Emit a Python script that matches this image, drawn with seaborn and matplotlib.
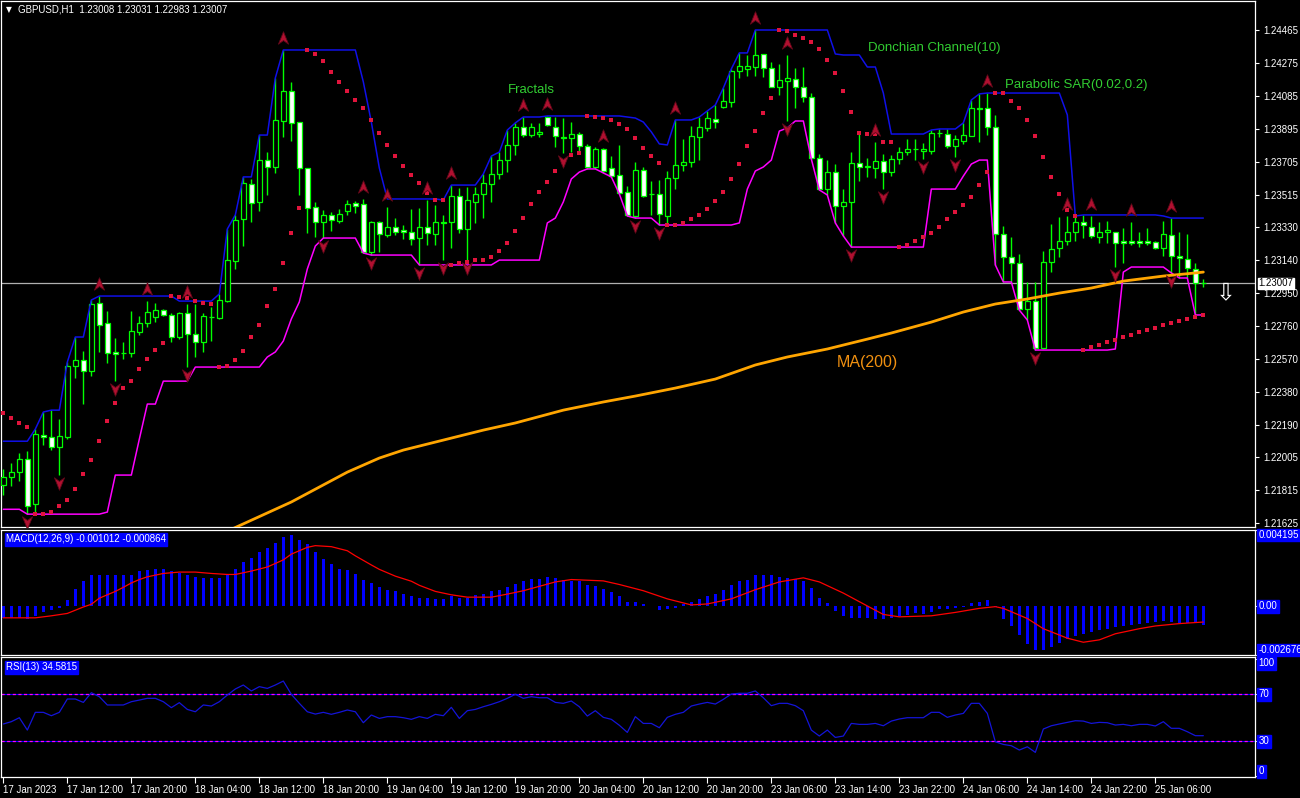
"""
plot.py
GBPUSD H1 chart with Donchian channel, parabolic SAR, fractals, MA, MACD and RSI
"""

import matplotlib
matplotlib.use("Agg")
import matplotlib.pyplot as plt
import matplotlib.transforms as mtrans
from matplotlib.path import Path
import numpy as np
import pandas as pd
import seaborn as sns

# ---------------- data ----------------
opens = [
    1.21844, 1.21891, 1.21919, 1.21994, 1.21735, 1.22132, 1.22121, 1.22063, 1.22121, 1.22530,
    1.22564, 1.22501, 1.22893, 1.22778, 1.22611, 1.22605, 1.22605, 1.22726, 1.22778, 1.22812,
    1.22852, 1.22824, 1.22697, 1.22835, 1.22714, 1.22668, 1.22812, 1.22806, 1.22904, 1.23135,
    1.23377, 1.23578, 1.23475, 1.23716, 1.23676, 1.23941, 1.24114, 1.23935, 1.23670, 1.23446,
    1.23359, 1.23400, 1.23365, 1.23423, 1.23469, 1.23463, 1.23187, 1.23359, 1.23284, 1.23331,
    1.23313, 1.23302, 1.23267, 1.23331, 1.23290, 1.23359, 1.23359, 1.23509, 1.23319, 1.23475,
    1.23521, 1.23578, 1.23636, 1.23716, 1.23803, 1.23906, 1.23860, 1.23866, 1.23964, 1.23906,
    1.23849, 1.23843, 1.23866, 1.23797, 1.23676, 1.23780, 1.23670, 1.23630, 1.23532, 1.23394,
    1.23659, 1.23521, 1.23521, 1.23394, 1.23613, 1.23688, 1.23705, 1.23849, 1.23901, 1.23953,
    1.24022, 1.24050, 1.24229, 1.24241, 1.24252, 1.24327, 1.24246, 1.24137, 1.24171, 1.24183,
    1.24137, 1.24079, 1.23728, 1.23549, 1.23647, 1.23451, 1.23475, 1.23699, 1.23676, 1.23670,
    1.23711, 1.23647, 1.23722, 1.23762, 1.23780, 1.23768, 1.23768, 1.23872, 1.23866, 1.23797,
    1.23826, 1.23855, 1.24010, 1.24016, 1.23906, 1.23290, 1.23158, 1.23123, 1.22858, 1.22904,
    1.22634, 1.23129, 1.23210, 1.23250, 1.23302, 1.23359, 1.23331, 1.23273, 1.23302, 1.23302,
    1.23250, 1.23250, 1.23250, 1.23250, 1.23244, 1.23210, 1.23284, 1.23163, 1.23146, 1.23089,
    1.23008,
]
highs = [
    1.21937, 1.21971, 1.22029, 1.22040, 1.22167, 1.22265, 1.22276, 1.22225, 1.22553, 1.22697,
    1.22616, 1.22910, 1.22933, 1.22847, 1.22691, 1.22668, 1.22847, 1.22818, 1.22904, 1.22893,
    1.22858, 1.22835, 1.22841, 1.22887, 1.22887, 1.22835, 1.22870, 1.22945, 1.23319, 1.23400,
    1.23619, 1.23607, 1.23860, 1.23762, 1.24189, 1.24350, 1.24166, 1.23935, 1.23670, 1.23475,
    1.23428, 1.23417, 1.23434, 1.23486, 1.23480, 1.23492, 1.23365, 1.23365, 1.23446, 1.23382,
    1.23342, 1.23434, 1.23440, 1.23486, 1.23457, 1.23400, 1.23572, 1.23555, 1.23561, 1.23561,
    1.23636, 1.23739, 1.23762, 1.23889, 1.23930, 1.23964, 1.23930, 1.23930, 1.23970, 1.23964,
    1.23958, 1.23935, 1.23878, 1.23809, 1.23791, 1.23786, 1.23739, 1.23803, 1.23567, 1.23705,
    1.23676, 1.23595, 1.23601, 1.23653, 1.23947, 1.23837, 1.23912, 1.23964, 1.23999, 1.24033,
    1.24131, 1.24241, 1.24333, 1.24321, 1.24465, 1.24327, 1.24281, 1.24269, 1.24321, 1.24246,
    1.24252, 1.24102, 1.23751, 1.23716, 1.23693, 1.23549, 1.23762, 1.23866, 1.23728, 1.23820,
    1.23751, 1.23745, 1.23791, 1.23837, 1.23837, 1.23814, 1.23889, 1.23895, 1.23895, 1.23860,
    1.23930, 1.24062, 1.24097, 1.24102, 1.23976, 1.23336, 1.23273, 1.23175, 1.23014, 1.23014,
    1.23192, 1.23348, 1.23388, 1.23394, 1.23388, 1.23400, 1.23394, 1.23359, 1.23365, 1.23302,
    1.23325, 1.23359, 1.23302, 1.23325, 1.23250, 1.23365, 1.23382, 1.23302, 1.23290, 1.23123,
    1.23031,
]
lows = [
    1.21787, 1.21839, 1.21867, 1.21677, 1.21689, 1.22075, 1.22046, 1.21902, 1.22109, 1.22461,
    1.22311, 1.22472, 1.22611, 1.22547, 1.22443, 1.22570, 1.22582, 1.22708, 1.22754, 1.22783,
    1.22818, 1.22668, 1.22685, 1.22524, 1.22582, 1.22611, 1.22674, 1.22801, 1.22899, 1.23089,
    1.23221, 1.23359, 1.23423, 1.23515, 1.23642, 1.23849, 1.23826, 1.23515, 1.23296, 1.23273,
    1.23267, 1.23307, 1.23354, 1.23400, 1.23411, 1.23181, 1.23169, 1.23187, 1.23273, 1.23284,
    1.23261, 1.23227, 1.23112, 1.23227, 1.23227, 1.23140, 1.23210, 1.23296, 1.23140, 1.23354,
    1.23382, 1.23475, 1.23607, 1.23647, 1.23745, 1.23849, 1.23849, 1.23849, 1.23912, 1.23791,
    1.23757, 1.23762, 1.23762, 1.23665, 1.23665, 1.23642, 1.23619, 1.23521, 1.23394, 1.23382,
    1.23503, 1.23400, 1.23342, 1.23354, 1.23549, 1.23653, 1.23676, 1.23716, 1.23883, 1.23901,
    1.24016, 1.24022, 1.24189, 1.24200, 1.24200, 1.24195, 1.24137, 1.24091, 1.23941, 1.24016,
    1.24050, 1.23722, 1.23544, 1.23515, 1.23354, 1.23279, 1.23215, 1.23595, 1.23619, 1.23613,
    1.23549, 1.23624, 1.23693, 1.23745, 1.23716, 1.23722, 1.23751, 1.23849, 1.23786, 1.23734,
    1.23809, 1.23855, 1.23820, 1.23860, 1.23112, 1.23014, 1.23014, 1.22852, 1.22795, 1.22622,
    1.22628, 1.23071, 1.23158, 1.23227, 1.23250, 1.23267, 1.23267, 1.23238, 1.23238, 1.23100,
    1.23123, 1.23227, 1.23215, 1.23227, 1.23204, 1.23163, 1.23066, 1.23037, 1.23037, 1.22824,
    1.22983,
]
closes = [
    1.21891, 1.21919, 1.21994, 1.21723, 1.22138, 1.22121, 1.22063, 1.22127, 1.22530, 1.22564,
    1.22501, 1.22887, 1.22766, 1.22605, 1.22599, 1.22605, 1.22731, 1.22778, 1.22841, 1.22852,
    1.22824, 1.22697, 1.22835, 1.22714, 1.22668, 1.22818, 1.22812, 1.22910, 1.23140, 1.23371,
    1.23584, 1.23469, 1.23716, 1.23676, 1.23947, 1.24114, 1.23930, 1.23670, 1.23440, 1.23359,
    1.23400, 1.23371, 1.23405, 1.23463, 1.23451, 1.23187, 1.23359, 1.23290, 1.23331, 1.23302,
    1.23302, 1.23261, 1.23331, 1.23296, 1.23359, 1.23354, 1.23509, 1.23319, 1.23486, 1.23521,
    1.23584, 1.23636, 1.23716, 1.23803, 1.23906, 1.23860, 1.23906, 1.23878, 1.23918, 1.23855,
    1.23843, 1.23866, 1.23797, 1.23676, 1.23780, 1.23653, 1.23624, 1.23526, 1.23400, 1.23659,
    1.23509, 1.23521, 1.23405, 1.23613, 1.23688, 1.23705, 1.23855, 1.23906, 1.23958, 1.23935,
    1.24056, 1.24229, 1.24258, 1.24258, 1.24321, 1.24246, 1.24137, 1.24177, 1.24189, 1.24137,
    1.24079, 1.23728, 1.23549, 1.23647, 1.23451, 1.23475, 1.23699, 1.23676, 1.23682, 1.23711,
    1.23647, 1.23722, 1.23762, 1.23780, 1.23780, 1.23780, 1.23872, 1.23872, 1.23797, 1.23837,
    1.23860, 1.24016, 1.24016, 1.23906, 1.23290, 1.23158, 1.23123, 1.22858, 1.22904, 1.22634,
    1.23129, 1.23204, 1.23250, 1.23302, 1.23359, 1.23342, 1.23279, 1.23302, 1.23313, 1.23238,
    1.23238, 1.23238, 1.23238, 1.23238, 1.23210, 1.23290, 1.23163, 1.23152, 1.23094, 1.23008,
    1.23007,
]

# fractal bars (arrow above the high / below the low)
fractal_up = [12, 18, 23, 35, 45, 48, 53, 56, 65, 68, 75, 84, 94, 98, 109, 123, 133, 136, 141, 146]
fractal_dn = [3, 7, 14, 23, 40, 46, 52, 55, 58, 70, 79, 82, 98, 106, 110, 115, 119, 129, 139, 146]

# Donchian channel level carried in from bars before the first visible one
donchian_prior_high = 1.22097
donchian_prior_low = 1.21705

# parabolic SAR state at the first visible bar (falling, above price)
sar_first = 1.22259
sar_first_ep = 1.21787
sar_first_af = 0.06

# MA(200), read at these bars
ma_bar = [28, 36, 43, 47, 50, 54, 60, 64, 70, 75, 79, 84, 89, 94, 98, 103, 108, 111,
          116, 120, 124, 128, 132, 136, 140, 145, 149, 150]
ma_val = [1.21579, 1.21747, 1.21919, 1.22000, 1.22046, 1.22092, 1.22161, 1.22202, 1.22276,
          1.22323, 1.22357, 1.22403, 1.22455, 1.22536, 1.22582, 1.22628, 1.22685, 1.22720,
          1.22783, 1.22841, 1.22887, 1.22916, 1.22950, 1.22979, 1.23019, 1.23048, 1.23066,
          1.23071]

macd_hist = [
    -0.000633, -0.000633, -0.000633, -0.000708, -0.000522, -0.000298, -0.000205, -0.000112, 0.000335, 0.000950,
    0.001379, 0.001695, 0.001733, 0.001733, 0.001733, 0.001733, 0.001733, 0.001919, 0.001975, 0.002031,
    0.002031, 0.001938, 0.001844, 0.001714, 0.001602, 0.001565, 0.001565, 0.001565, 0.001695, 0.002049,
    0.002459, 0.002683, 0.002962, 0.003186, 0.003484, 0.003801, 0.003912, 0.003670, 0.003428, 0.002962,
    0.002627, 0.002347, 0.002068, 0.001975, 0.001788, 0.001472, 0.001285, 0.001043, 0.000913, 0.000857,
    0.000671, 0.000540, 0.000484, 0.000447, 0.000410, 0.000410, 0.000540, 0.000484, 0.000484, 0.000633,
    0.000671, 0.000820, 0.000913, 0.001043, 0.001230, 0.001379, 0.001509, 0.001509, 0.001602, 0.001565,
    0.001472, 0.001416, 0.001416, 0.001155, 0.001099, 0.000950, 0.000782, 0.000540, 0.000261, 0.000224,
    0.000112, 0.000037, -0.000186, -0.000149, -0.000075, 0.000112, 0.000224, 0.000391, 0.000540, 0.000671,
    0.000913, 0.001155, 0.001379, 0.001472, 0.001695, 0.001733, 0.001695, 0.001602, 0.001565, 0.001528,
    0.001379, 0.001006, 0.000447, 0.000168, -0.000261, -0.000540, -0.000615, -0.000633, -0.000633, -0.000671,
    -0.000671, -0.000633, -0.000522, -0.000484, -0.000391, -0.000428, -0.000298, -0.000168, -0.000149, -0.000112,
    -0.000056, 0.000168, 0.000261, 0.000354, -0.000056, -0.000708, -0.001099, -0.001602, -0.002068, -0.002403,
    -0.002385, -0.002254, -0.002031, -0.001788, -0.001658, -0.001546, -0.001416, -0.001323, -0.001230, -0.001136,
    -0.001099, -0.001043, -0.000950, -0.000894, -0.000857, -0.000820, -0.000857, -0.000894, -0.000894, -0.000913,
    -0.001012,
]
signal_bar = [0, 4, 6, 8, 10, 11, 12, 14, 15, 16, 17, 18, 20, 22, 24, 26, 28, 29, 31, 33, 35, 36,
              38, 39, 41, 43, 44, 46, 47, 49, 51, 52, 54, 56, 58, 61, 63, 65, 67, 69, 71, 73, 75,
              77, 80, 83, 86, 88, 91, 94, 97, 100, 102, 105, 108, 110, 112, 116, 119, 122, 124,
              125, 128, 130, 133, 135, 137, 139, 142, 144, 147, 150]
signal_val = [-0.000633, -0.000633, -0.000522, -0.000391, -0.000037, 0.000112, 0.000447, 0.000820,
              0.001043, 0.001285, 0.001472, 0.001621, 0.001807, 0.001882, 0.001882, 0.001807,
              0.001751, 0.001751, 0.001938, 0.002161, 0.002552, 0.002869, 0.003242, 0.003335,
              0.003279, 0.003055, 0.002776, 0.002273, 0.002031, 0.001658, 0.001379, 0.001155,
              0.000820, 0.000633, 0.000503, 0.000503, 0.000671, 0.000857, 0.001099, 0.001341,
              0.001472, 0.001435, 0.001398, 0.001200, 0.000857, 0.000410, 0.000075, 0.000130,
              0.000410, 0.000913, 0.001341, 0.001565, 0.001341, 0.000727, 0.000019, -0.000447,
              -0.000578, -0.000522, -0.000335, -0.000112, -0.000019, -0.000112, -0.000671,
              -0.001230, -0.001751, -0.001975, -0.001844, -0.001509, -0.001230, -0.001080,
              -0.000950, -0.000864]

rsi = [
    44.6, 46.6, 50.0, 39.4, 54.6, 54.6, 51.7, 54.6, 66.0, 66.0,
    63.1, 71.4, 68.0, 60.9, 60.9, 60.9, 63.7, 65.1, 66.6, 66.6,
    63.7, 58.6, 62.9, 57.1, 55.1, 60.9, 60.0, 63.7, 69.4, 74.6,
    78.0, 72.9, 76.6, 75.1, 78.0, 81.4, 70.0, 62.3, 55.1, 53.1,
    54.6, 52.9, 54.6, 56.6, 55.1, 45.7, 52.3, 49.4, 50.9, 50.9,
    50.0, 48.6, 50.9, 49.4, 52.9, 51.7, 58.9, 49.4, 56.0, 57.1,
    59.4, 61.4, 63.7, 66.6, 70.0, 66.6, 68.0, 67.1, 67.1, 63.1,
    62.3, 64.3, 59.4, 51.4, 56.0, 50.3, 48.6, 43.5, 37.4, 50.9,
    45.1, 45.1, 41.4, 50.3, 52.9, 54.6, 60.0, 61.7, 63.1, 61.7,
    65.7, 70.3, 70.9, 70.9, 72.9, 67.1, 60.3, 62.3, 62.3, 60.3,
    56.0, 39.4, 34.3, 39.4, 33.1, 34.3, 45.1, 44.3, 44.3, 45.1,
    43.1, 47.1, 48.9, 50.0, 50.0, 50.0, 54.6, 54.6, 50.3, 52.3,
    53.7, 62.3, 62.3, 53.7, 29.4, 27.1, 26.0, 22.3, 25.1, 20.3,
    40.3, 43.1, 44.6, 46.0, 47.4, 47.1, 45.1, 46.0, 45.7, 43.7,
    44.3, 43.1, 44.3, 44.3, 42.9, 46.6, 40.9, 40.9, 38.0, 34.6,
    34.5815,
]

price_ticks = [1.24465, 1.24275, 1.24085, 1.23895, 1.23705, 1.23515, 1.23330, 1.23140,
               1.22950, 1.22760, 1.22570, 1.22380, 1.22190, 1.22005, 1.21815, 1.21625]
time_labels = ["17 Jan 2023", "17 Jan 12:00", "17 Jan 20:00", "18 Jan 04:00", "18 Jan 12:00",
               "18 Jan 20:00", "19 Jan 04:00", "19 Jan 12:00", "19 Jan 20:00", "20 Jan 04:00",
               "20 Jan 12:00", "20 Jan 20:00", "23 Jan 06:00", "23 Jan 14:00", "23 Jan 22:00",
               "24 Jan 06:00", "24 Jan 14:00", "24 Jan 22:00", "25 Jan 06:00"]
time_label_bars = list(range(0, 145, 8))

macd_top, macd_bottom = 0.004195, -0.002676
header = "GBPUSD,H1  1.23008 1.23031 1.22983 1.23007"


def parabolic_sar(high, low, start, ep, af, step=0.02, af_max=0.2):
    sar = np.empty(len(high))
    sar[0] = start
    up = False
    for i in range(1, len(high)):
        s = sar[i - 1] + af * (ep - sar[i - 1])
        if up:
            s = min(s, low[i - 1], low[max(i - 2, 0)])
            if low[i] < s:
                up, s, ep, af = False, ep, low[i], step
            elif high[i] > ep:
                ep, af = high[i], min(af + step, af_max)
        else:
            s = max(s, high[i - 1], high[max(i - 2, 0)])
            if high[i] > s:
                up, s, ep, af = True, ep, high[i], step
            elif low[i] < ep:
                ep, af = low[i], min(af + step, af_max)
        sar[i] = s
    return sar


# ---------------- style ----------------
sns.set_theme(style="dark", rc={"axes.facecolor": "black", "figure.facecolor": "black",
                                "axes.grid": False})
plt.rcParams["font.family"] = ["Liberation Sans", "DejaVu Sans"]

GREEN = "#00ff00"
LABEL_GREEN = "#32cd32"
BLUE = "#0000ff"
MAGENTA = "#ff00ff"
SAR_RED = "#e0143c"
ORANGE = "#ffa500"

o, h, l, c = (np.array(a) for a in (opens, highs, lows, closes))
n = len(c)
x = np.arange(n)

fig = plt.figure(figsize=(13, 7.98), dpi=100)
fig.patch.set_facecolor("black")
left, width = 1 / 1300, 1254 / 1300
ax = fig.add_axes([left, 1 - 527 / 798, width, 526 / 798])
ax_m = fig.add_axes([left, 1 - 655 / 798, width, 125 / 798])
ax_r = fig.add_axes([left, 1 - 777 / 798, width, 120 / 798])

x_lo = -(3.33 - 1) / 8
x_hi = x_lo + 1254 / 8
for a in (ax, ax_m, ax_r):
    a.set_facecolor("black")
    a.set_xlim(x_lo, x_hi)
    for sp in a.spines.values():
        sp.set_color("white")
        sp.set_linewidth(0.9)
    a.tick_params(axis="x", bottom=False, labelbottom=False)
    a.yaxis.tick_right()

# ---------------- main panel ----------------
ax.set_ylim(1.21603, 1.24632)

ax.vlines(x, l, h, color=GREEN, linewidth=1, zorder=2)
bull = c >= o
ax.bar(x[bull], (c - o)[bull], bottom=o[bull], width=0.55, facecolor="black",
       edgecolor=GREEN, linewidth=0.9, zorder=3)
ax.bar(x[~bull], (o - c)[~bull], bottom=c[~bull], width=0.55, facecolor="white",
       edgecolor=GREEN, linewidth=0.9, zorder=3)

# Donchian(10): the first ten windows still hold bars from before the chart
don_up = pd.Series(h).rolling(10, min_periods=1).max().values
don_dn = pd.Series(l).rolling(10, min_periods=1).min().values
don_up[:10] = np.maximum(don_up[:10], donchian_prior_high)
don_dn[:10] = np.minimum(don_dn[:10], donchian_prior_low)
sns.lineplot(x=x, y=don_up, ax=ax, color="#1010e8", linewidth=1.1, zorder=4)
sns.lineplot(x=x, y=don_dn, ax=ax, color=MAGENTA, linewidth=1.1, zorder=4)

sns.lineplot(x=ma_bar, y=ma_val, ax=ax, color=ORANGE, linewidth=2, zorder=4)

sar = parabolic_sar(h, l, sar_first, sar_first_ep, sar_first_af)
ax.scatter(x, sar, marker="s", s=10, color=SAR_RED, linewidths=0, zorder=5)

arrow = Path([(0, 1), (-0.75, -0.85), (0, -0.3), (0.75, -0.85), (0, 1)],
             [Path.MOVETO, Path.LINETO, Path.LINETO, Path.LINETO, Path.CLOSEPOLY])
arrow_dn = Path(arrow.vertices * np.array([1, -1]), arrow.codes)
ax.scatter(fractal_up, h[fractal_up] + 0.00068, marker=arrow, s=95, color="#b01030",
           edgecolors="#600818", linewidths=0.6, zorder=6)
ax.scatter(fractal_dn, l[fractal_dn] - 0.00045, marker=arrow_dn, s=95, color="#b01030",
           edgecolors="#600818", linewidths=0.6, zorder=6)

ax.axhline(c[-1], color="#b0b0b0", linewidth=0.9, zorder=1)

ax.set_yticks(price_ticks)
ax.set_yticklabels([f"{t:.5f}" for t in price_ticks])
ax.tick_params(axis="y", colors="white", labelsize=7, length=3, width=0.8, pad=3)

right_tr = mtrans.blended_transform_factory(ax.transAxes, ax.transData)
ax.text(1.003, c[-1], f"{c[-1]:.5f}", transform=right_tr, fontsize=7, color="black",
        va="center", ha="left", zorder=10,
        bbox=dict(boxstyle="square,pad=0.05", facecolor="white", edgecolor="white"))
ax.text(152.8, c[-1] - 0.00052, "\u21e9", fontsize=17, color="white", ha="center",
        va="center", family="DejaVu Sans", zorder=7)

ax.text(66, 1.24120, "Fractals", color=LABEL_GREEN, fontsize=9.5, ha="center", va="center")
ax.text(108.1, 1.24362, "Donchian Channel(10)", color=LABEL_GREEN, fontsize=9.5,
        ha="left", va="center")
ax.text(125.2, 1.24148, "Parabolic SAR(0.02,0.2)", color=LABEL_GREEN, fontsize=9.5,
        ha="left", va="center")
ax.text(104.2, 1.22553, "MA(200)", color="#f09010", fontsize=11.5, ha="left", va="center")

fig.text(6 / 1300, 1 - 10 / 798, "\u25bc", color="white", fontsize=5.5, va="center",
         family="DejaVu Sans")
fig.text(18 / 1300, 1 - 10 / 798, header, color="white", fontsize=7, va="center")

# ---------------- MACD panel ----------------
ax_m.set_ylim(macd_bottom, macd_top)
ax_m.bar(x, macd_hist, width=0.42, color=BLUE, linewidth=0, zorder=2)
sns.lineplot(x=signal_bar, y=signal_val, ax=ax_m, color="#ff0000", linewidth=0.9, zorder=3)
ax_m.set_yticks([macd_top, 0, macd_bottom])
ax_m.set_yticklabels([])
ax_m.tick_params(axis="y", colors="white", length=3, width=0.8)
m_tr = mtrans.blended_transform_factory(ax_m.transAxes, ax_m.transData)
box_blue = dict(boxstyle="square,pad=0.15", facecolor=BLUE, edgecolor=BLUE)
for val, txt, va in [(macd_top, "0.004195", "top"), (0, "0.00", "center"),
                     (macd_bottom, "-0.002676", "bottom")]:
    ax_m.text(1.003, val, txt, transform=m_tr, fontsize=7, color="white", ha="left",
              va=va, bbox=box_blue)
ax_m.text(0.004, 0.965, f"MACD(12,26,9) {macd_hist[-1]:.6f} {signal_val[-1]:.6f}",
          transform=ax_m.transAxes, fontsize=7, color="white", ha="left", va="top",
          bbox=box_blue)

# ---------------- RSI panel ----------------
ax_r.set_ylim(-0.8, 102)
for lvl in (70, 30):
    ax_r.axhline(lvl, color=BLUE, linewidth=0.8, zorder=1)
    ax_r.axhline(lvl, color=MAGENTA, linewidth=0.9, linestyle=(0, (2.5, 2)), zorder=2)
sns.lineplot(x=x, y=rsi, ax=ax_r, color="#1414d8", linewidth=0.9, zorder=3)
ax_r.set_yticks([100, 70, 30, 0])
ax_r.set_yticklabels([])
ax_r.tick_params(axis="y", colors="white", length=3, width=0.8)
r_tr = mtrans.blended_transform_factory(ax_r.transAxes, ax_r.transData)
for val, txt, va in [(101, "100", "top"), (70, "70", "center"), (30, "30", "center"),
                     (-0.3, "0", "bottom")]:
    ax_r.text(1.003, val, txt, transform=r_tr, fontsize=7, color="white", ha="left",
              va=va, bbox=box_blue)
ax_r.text(0.004, 0.955, f"RSI(13) {rsi[-1]:.4f}",
          transform=ax_r.transAxes, fontsize=7, color="white", ha="left", va="top",
          bbox=box_blue)

ax_r.set_xticks(time_label_bars)
ax_r.set_xticklabels(time_labels)
ax_r.tick_params(axis="x", bottom=True, labelbottom=True, colors="white", labelsize=7,
                 length=4, width=0.8, pad=2)
for lbl in ax_r.get_xticklabels():
    lbl.set_ha("left")

for a in (ax, ax_m, ax_r):
    a.set_xlabel("")
    a.set_ylabel("")

fig.savefig("out.png", dpi=100, facecolor="black")
